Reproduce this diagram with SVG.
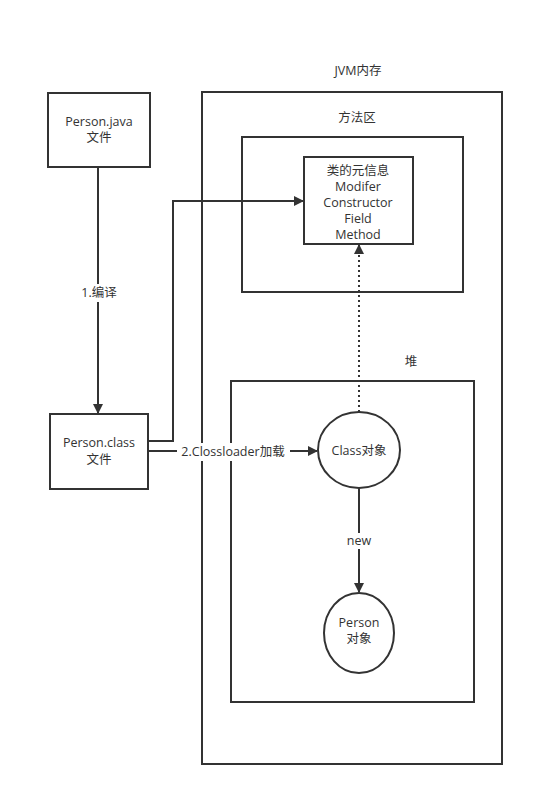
<svg xmlns="http://www.w3.org/2000/svg" width="535" height="796" viewBox="0 0 535 796">
<defs>
<style>
.b{fill:#fff;stroke:#333;stroke-width:2}
.c{fill:none;stroke:#333;stroke-width:2}
text{font-family:"Open Sans","Noto Sans CJK SC",sans-serif;font-size:12.5px;fill:#333;text-anchor:middle}
.lb{fill:#fff;stroke:none}
</style>
<marker id="ah" markerWidth="10" markerHeight="10" refX="9" refY="5" orient="auto" markerUnits="userSpaceOnUse"><path d="M0,0 L10,5 L0,10 Z" fill="#333"/></marker>
</defs>
<rect width="535" height="796" fill="#fff"/>
<g id="jvm"><rect class="b" x="202" y="92" width="300" height="672"/><text x="358" y="75">JVM内存</text></g>
<g id="method-area"><rect class="b" x="242" y="137" width="221" height="155"/><text x="357" y="122">方法区</text></g>
<g id="heap"><rect class="b" x="231" y="381" width="243" height="321"/><text x="411" y="366">堆</text></g>
<g id="person-java"><rect class="b" x="48" y="93" width="102" height="74"/><text x="99" y="126">Person.java</text><text x="99" y="142">文件</text></g>
<g id="person-class"><rect class="b" x="50" y="414" width="98" height="75"/><text x="99" y="447">Person.class</text><text x="99" y="464">文件</text></g>
<g id="meta"><rect class="b" x="304" y="157" width="109" height="87"/><text x="358" y="175">类的元信息</text><text x="358" y="191">Modifer</text><text x="358" y="207">Constructor</text><text x="358" y="223">Field</text><text x="358" y="239">Method</text></g>
<g id="class-obj"><ellipse class="b" cx="359" cy="450" rx="41" ry="38"/><text x="359" y="455">Class对象</text></g>
<g id="person-obj"><ellipse class="b" cx="359" cy="633" rx="35" ry="40"/><text x="359" y="627">Person</text><text x="359" y="643">对象</text></g>
<g id="connectors">
<path class="c" d="M98,167 V413" marker-end="url(#ah)"/>
<rect class="lb" x="76" y="284" width="46" height="18"/>
<text x="99" y="297">1.编译</text>
<path class="c" d="M148,441 H173 V201 H303" marker-end="url(#ah)"/>
<path class="c" d="M148,451 H317" marker-end="url(#ah)"/>
<rect class="lb" x="177" y="443" width="113" height="18"/>
<text x="233" y="456">2.Clossloader加载</text>
<path class="c" d="M359,412 V245" stroke-dasharray="2,3" marker-end="url(#ah)"/>
<path class="c" d="M359,488 V592" marker-end="url(#ah)"/>
<rect class="lb" x="343" y="533" width="32" height="16"/>
<text x="359" y="545">new</text>
</g>
</svg>
